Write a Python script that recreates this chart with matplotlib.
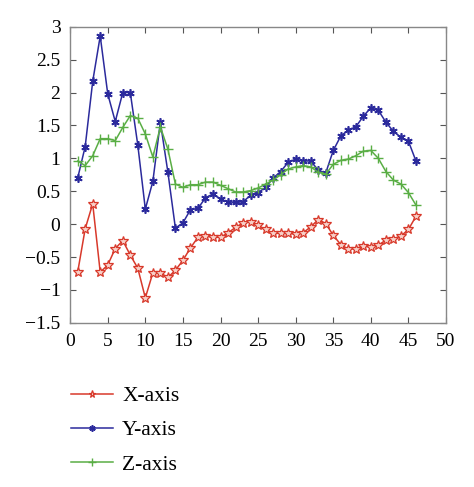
import matplotlib
matplotlib.use("Agg")
import matplotlib.pyplot as plt

plt.rcParams['font.family'] = ['Liberation Serif', 'DejaVu Serif']

x = list(range(1, 47))
x_axis = [-0.73, -0.07, 0.31, -0.73, -0.62, -0.37, -0.25, -0.47, -0.67, -1.12,
          -0.74, -0.74, -0.81, -0.70, -0.55, -0.36, -0.20, -0.18, -0.20, -0.20,
          -0.13, -0.05, 0.02, 0.04, -0.02, -0.08, -0.14, -0.14, -0.14, -0.15,
          -0.13, -0.04, 0.07, 0.01, -0.17, -0.31, -0.38, -0.37, -0.33, -0.35,
          -0.32, -0.24, -0.22, -0.18, -0.08, 0.12]
y_axis = [0.70, 1.18, 2.17, 2.86, 1.98, 1.56, 2.00, 2.00, 1.20, 0.23,
          0.65, 1.55, 0.79, -0.06, 0.02, 0.22, 0.24, 0.40, 0.46, 0.38,
          0.34, 0.33, 0.34, 0.44, 0.48, 0.56, 0.70, 0.80, 0.94, 0.99,
          0.96, 0.96, 0.82, 0.78, 1.12, 1.34, 1.43, 1.48, 1.64, 1.77,
          1.73, 1.55, 1.41, 1.32, 1.26, 0.96]
z_axis = [0.96, 0.89, 1.04, 1.30, 1.30, 1.27, 1.47, 1.65, 1.61, 1.37,
          1.02, 1.48, 1.14, 0.61, 0.56, 0.60, 0.60, 0.64, 0.64, 0.59,
          0.54, 0.49, 0.49, 0.51, 0.55, 0.61, 0.67, 0.75, 0.84, 0.87,
          0.89, 0.87, 0.79, 0.76, 0.91, 0.97, 0.99, 1.04, 1.11, 1.12,
          1.00, 0.80, 0.67, 0.61, 0.48, 0.29]
labels = ['X-axis', 'Y-axis', 'Z-axis']

fig = plt.figure(figsize=(4.74, 4.87), dpi=100)
ax = fig.add_axes([0.148, 0.337, 0.793, 0.608])

red = '#d8392b'
blue = '#2b2a9c'
green = '#5aae45'
asterisk = (6, 2, 0)

l1, = ax.plot(x, x_axis, color=red, lw=1.1, marker='*', ms=7,
              mfc='#f7d0c8', mec=red, mew=0.9, label=labels[0])
l2, = ax.plot(x, y_axis, color=blue, lw=1.1, marker=asterisk, ms=6,
              mec=blue, mew=1.2, label=labels[1])
l3, = ax.plot(x, z_axis, color=green, lw=1.1, marker='+', ms=7,
              mec=green, mew=1.0, label=labels[2])

ax.set_xlim(0, 50)
ax.set_ylim(-1.5, 3)
ax.set_xticks(range(0, 51, 5))
ax.set_yticks([-1.5, -1, -0.5, 0, 0.5, 1, 1.5, 2, 2.5, 3])
ax.set_yticklabels(['\u22121.5', '\u22121', '\u22120.5', '0', '0.5', '1', '1.5', '2', '2.5', '3'])
ax.tick_params(direction='in', top=True, right=True, length=4, width=0.8,
               labelsize=14, color='#555555', pad=7)
for s in ax.spines.values():
    s.set_color('#888888')
    s.set_linewidth(1.0)

fig.legend(handles=[l1, l2, l3], loc='upper left', bbox_to_anchor=(0.108, 0.247),
           frameon=False, fontsize=15.5, handlelength=1.95, labelspacing=0.66,
           handletextpad=0.45, markerscale=0.75, borderpad=0.4)

fig.savefig('out.png', dpi=100)
